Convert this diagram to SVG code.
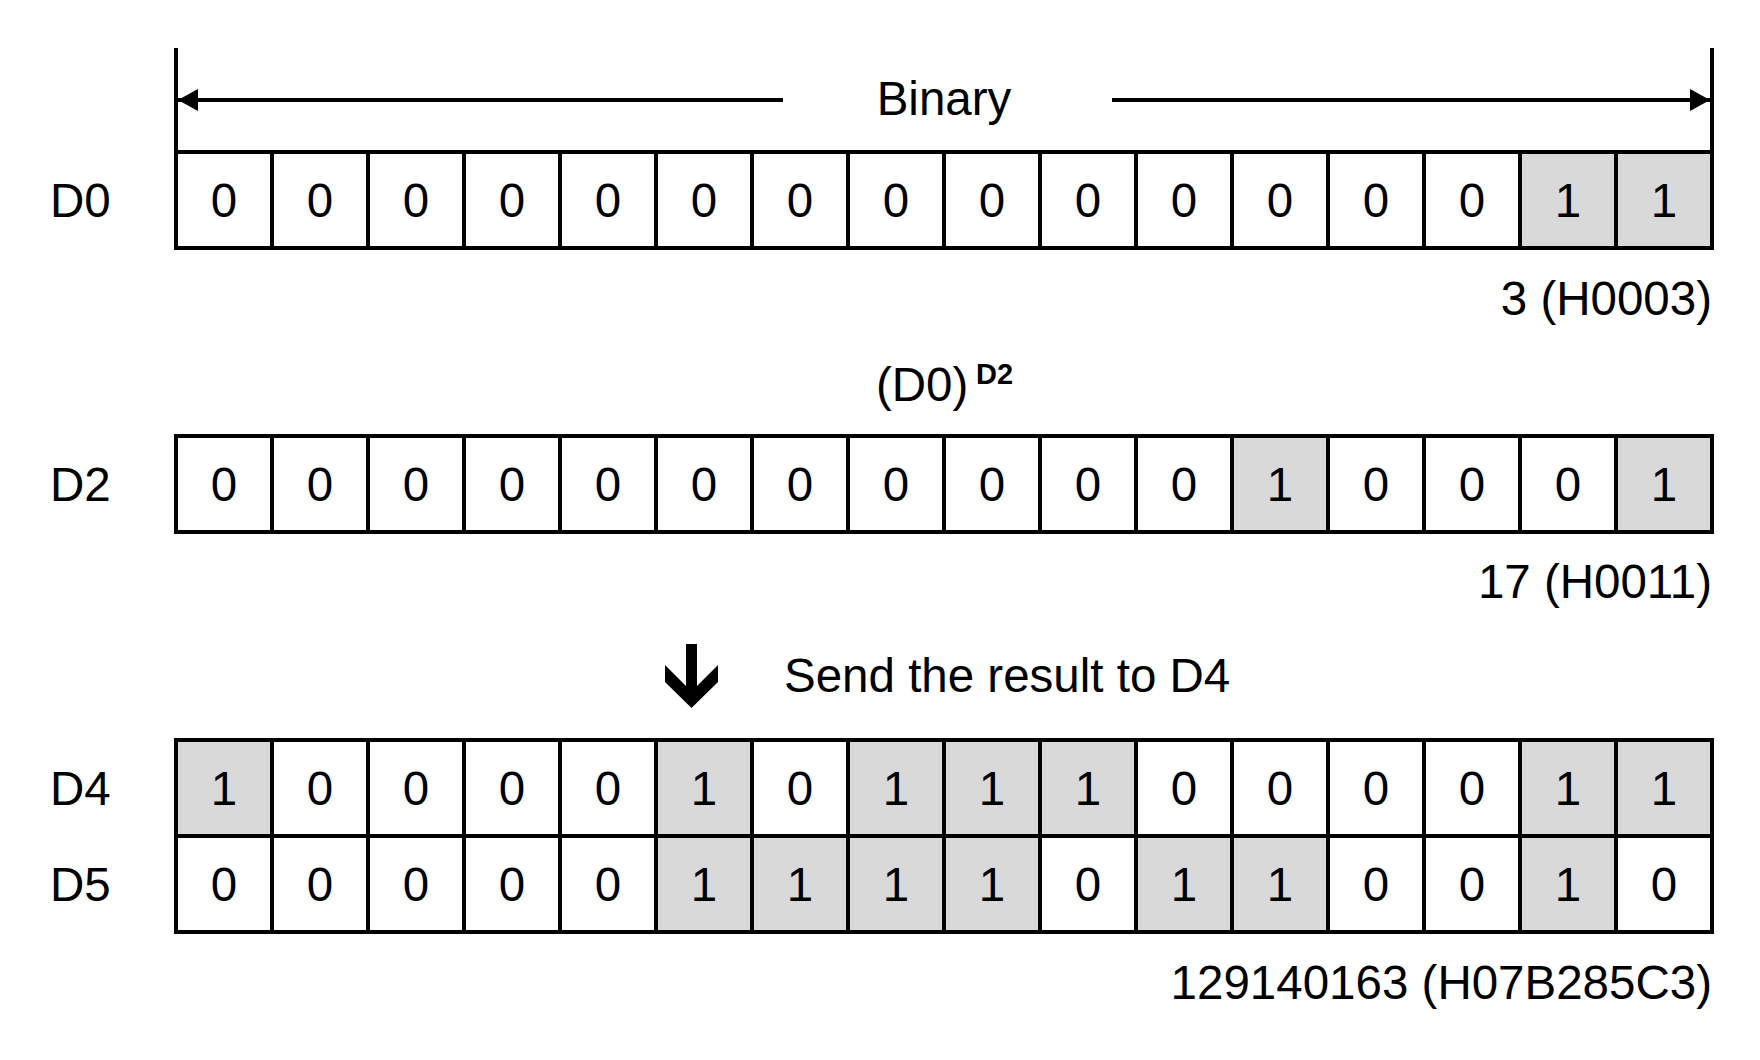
<svg xmlns="http://www.w3.org/2000/svg" width="1760" height="1060" viewBox="0 0 1760 1060">
<defs>
<style>
.bg{fill:#fff}
.c{fill:#fff;stroke:#000;stroke-width:4}
.on{fill:#d9d9d9}
.ln{stroke:#000;stroke-width:4;fill:none}
.t{font-family:"Liberation Sans",Arial,Helvetica,sans-serif;font-size:47.5px;fill:#000}
.d{text-anchor:middle}
.r{text-anchor:end}
.sup{font-family:"Liberation Sans",Arial,Helvetica,sans-serif;font-size:29px;font-weight:bold;fill:#000}
</style>
<marker id="ah" viewBox="0 0 20 22" refX="20" refY="11" markerWidth="20" markerHeight="22" markerUnits="userSpaceOnUse" orient="auto">
<path d="M0,0 L20,11 L0,22 z" fill="#000"/>
</marker>
</defs>
<rect class="bg" x="0" y="0" width="1760" height="1060"/>

<g id="connectors">
<line class="ln" x1="176" y1="48" x2="176" y2="152"/>
<line class="ln" x1="1712" y1="48" x2="1712" y2="152"/>
<line class="ln" x1="783" y1="100" x2="178" y2="100" marker-end="url(#ah)"/>
<line class="ln" x1="1112" y1="100" x2="1710" y2="100" marker-end="url(#ah)"/>
<polygon id="down-arrow" fill="#000" points="686,644 697,644 697,686 718,665 718,682 691.5,708 665,682 665,665 686,686"/>
</g>

<g id="binary-label"><text class="t d" x="944" y="115">Binary</text></g>

<g id="row-D0">
<text class="t" x="50" y="217">D0</text>
<rect class="c" x="176" y="152" width="96" height="96"/>
<rect class="c" x="272" y="152" width="96" height="96"/>
<rect class="c" x="368" y="152" width="96" height="96"/>
<rect class="c" x="464" y="152" width="96" height="96"/>
<rect class="c" x="560" y="152" width="96" height="96"/>
<rect class="c" x="656" y="152" width="96" height="96"/>
<rect class="c" x="752" y="152" width="96" height="96"/>
<rect class="c" x="848" y="152" width="96" height="96"/>
<rect class="c" x="944" y="152" width="96" height="96"/>
<rect class="c" x="1040" y="152" width="96" height="96"/>
<rect class="c" x="1136" y="152" width="96" height="96"/>
<rect class="c" x="1232" y="152" width="96" height="96"/>
<rect class="c" x="1328" y="152" width="96" height="96"/>
<rect class="c" x="1424" y="152" width="96" height="96"/>
<rect class="c on" x="1520" y="152" width="96" height="96"/>
<rect class="c on" x="1616" y="152" width="96" height="96"/>
<text class="t d" x="224" y="217">0</text>
<text class="t d" x="320" y="217">0</text>
<text class="t d" x="416" y="217">0</text>
<text class="t d" x="512" y="217">0</text>
<text class="t d" x="608" y="217">0</text>
<text class="t d" x="704" y="217">0</text>
<text class="t d" x="800" y="217">0</text>
<text class="t d" x="896" y="217">0</text>
<text class="t d" x="992" y="217">0</text>
<text class="t d" x="1088" y="217">0</text>
<text class="t d" x="1184" y="217">0</text>
<text class="t d" x="1280" y="217">0</text>
<text class="t d" x="1376" y="217">0</text>
<text class="t d" x="1472" y="217">0</text>
<text class="t d" x="1568" y="217">1</text>
<text class="t d" x="1664" y="217">1</text>
<text class="t r" x="1712" y="315">3 (H0003)</text>
</g>

<g id="power-label">
<text class="t" x="876" y="401">(D0)</text>
<text class="sup" x="976" y="384">D2</text>
</g>

<g id="row-D2">
<text class="t" x="50" y="501">D2</text>
<rect class="c" x="176" y="436" width="96" height="96"/>
<rect class="c" x="272" y="436" width="96" height="96"/>
<rect class="c" x="368" y="436" width="96" height="96"/>
<rect class="c" x="464" y="436" width="96" height="96"/>
<rect class="c" x="560" y="436" width="96" height="96"/>
<rect class="c" x="656" y="436" width="96" height="96"/>
<rect class="c" x="752" y="436" width="96" height="96"/>
<rect class="c" x="848" y="436" width="96" height="96"/>
<rect class="c" x="944" y="436" width="96" height="96"/>
<rect class="c" x="1040" y="436" width="96" height="96"/>
<rect class="c" x="1136" y="436" width="96" height="96"/>
<rect class="c on" x="1232" y="436" width="96" height="96"/>
<rect class="c" x="1328" y="436" width="96" height="96"/>
<rect class="c" x="1424" y="436" width="96" height="96"/>
<rect class="c" x="1520" y="436" width="96" height="96"/>
<rect class="c on" x="1616" y="436" width="96" height="96"/>
<text class="t d" x="224" y="501">0</text>
<text class="t d" x="320" y="501">0</text>
<text class="t d" x="416" y="501">0</text>
<text class="t d" x="512" y="501">0</text>
<text class="t d" x="608" y="501">0</text>
<text class="t d" x="704" y="501">0</text>
<text class="t d" x="800" y="501">0</text>
<text class="t d" x="896" y="501">0</text>
<text class="t d" x="992" y="501">0</text>
<text class="t d" x="1088" y="501">0</text>
<text class="t d" x="1184" y="501">0</text>
<text class="t d" x="1280" y="501">1</text>
<text class="t d" x="1376" y="501">0</text>
<text class="t d" x="1472" y="501">0</text>
<text class="t d" x="1568" y="501">0</text>
<text class="t d" x="1664" y="501">1</text>
<text class="t r" x="1712" y="598">17 (H0011)</text>
</g>

<g id="send-label"><text class="t" x="784" y="692">Send the result to D4</text></g>

<g id="row-D4">
<text class="t" x="50" y="805">D4</text>
<rect class="c on" x="176" y="740" width="96" height="96"/>
<rect class="c" x="272" y="740" width="96" height="96"/>
<rect class="c" x="368" y="740" width="96" height="96"/>
<rect class="c" x="464" y="740" width="96" height="96"/>
<rect class="c" x="560" y="740" width="96" height="96"/>
<rect class="c on" x="656" y="740" width="96" height="96"/>
<rect class="c" x="752" y="740" width="96" height="96"/>
<rect class="c on" x="848" y="740" width="96" height="96"/>
<rect class="c on" x="944" y="740" width="96" height="96"/>
<rect class="c on" x="1040" y="740" width="96" height="96"/>
<rect class="c" x="1136" y="740" width="96" height="96"/>
<rect class="c" x="1232" y="740" width="96" height="96"/>
<rect class="c" x="1328" y="740" width="96" height="96"/>
<rect class="c" x="1424" y="740" width="96" height="96"/>
<rect class="c on" x="1520" y="740" width="96" height="96"/>
<rect class="c on" x="1616" y="740" width="96" height="96"/>
<text class="t d" x="224" y="805">1</text>
<text class="t d" x="320" y="805">0</text>
<text class="t d" x="416" y="805">0</text>
<text class="t d" x="512" y="805">0</text>
<text class="t d" x="608" y="805">0</text>
<text class="t d" x="704" y="805">1</text>
<text class="t d" x="800" y="805">0</text>
<text class="t d" x="896" y="805">1</text>
<text class="t d" x="992" y="805">1</text>
<text class="t d" x="1088" y="805">1</text>
<text class="t d" x="1184" y="805">0</text>
<text class="t d" x="1280" y="805">0</text>
<text class="t d" x="1376" y="805">0</text>
<text class="t d" x="1472" y="805">0</text>
<text class="t d" x="1568" y="805">1</text>
<text class="t d" x="1664" y="805">1</text>
</g>

<g id="row-D5">
<text class="t" x="50" y="901">D5</text>
<rect class="c" x="176" y="836" width="96" height="96"/>
<rect class="c" x="272" y="836" width="96" height="96"/>
<rect class="c" x="368" y="836" width="96" height="96"/>
<rect class="c" x="464" y="836" width="96" height="96"/>
<rect class="c" x="560" y="836" width="96" height="96"/>
<rect class="c on" x="656" y="836" width="96" height="96"/>
<rect class="c on" x="752" y="836" width="96" height="96"/>
<rect class="c on" x="848" y="836" width="96" height="96"/>
<rect class="c on" x="944" y="836" width="96" height="96"/>
<rect class="c" x="1040" y="836" width="96" height="96"/>
<rect class="c on" x="1136" y="836" width="96" height="96"/>
<rect class="c on" x="1232" y="836" width="96" height="96"/>
<rect class="c" x="1328" y="836" width="96" height="96"/>
<rect class="c" x="1424" y="836" width="96" height="96"/>
<rect class="c on" x="1520" y="836" width="96" height="96"/>
<rect class="c" x="1616" y="836" width="96" height="96"/>
<text class="t d" x="224" y="901">0</text>
<text class="t d" x="320" y="901">0</text>
<text class="t d" x="416" y="901">0</text>
<text class="t d" x="512" y="901">0</text>
<text class="t d" x="608" y="901">0</text>
<text class="t d" x="704" y="901">1</text>
<text class="t d" x="800" y="901">1</text>
<text class="t d" x="896" y="901">1</text>
<text class="t d" x="992" y="901">1</text>
<text class="t d" x="1088" y="901">0</text>
<text class="t d" x="1184" y="901">1</text>
<text class="t d" x="1280" y="901">1</text>
<text class="t d" x="1376" y="901">0</text>
<text class="t d" x="1472" y="901">0</text>
<text class="t d" x="1568" y="901">1</text>
<text class="t d" x="1664" y="901">0</text>
<text class="t r" x="1712" y="999">129140163 (H07B285C3)</text>
</g>
</svg>
